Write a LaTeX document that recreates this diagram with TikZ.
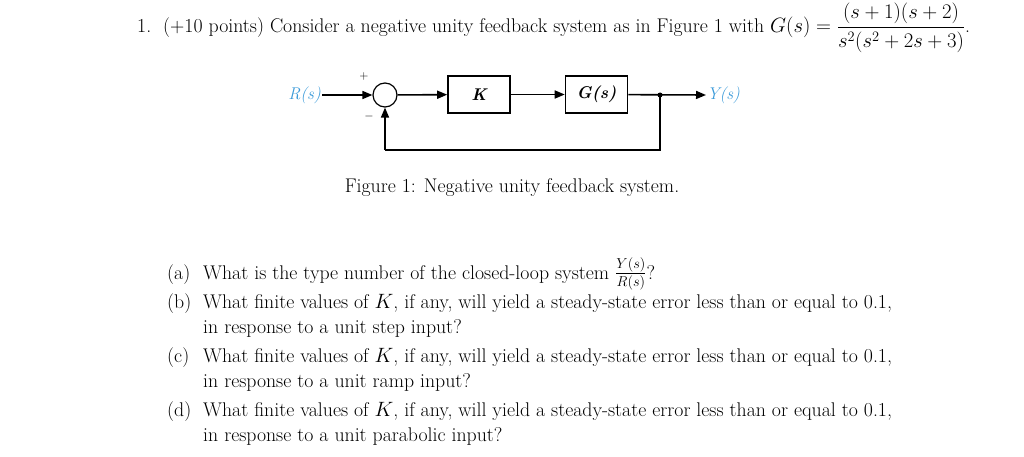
\documentclass[tikz,border=0pt]{standalone}
\usepackage{amsmath}
\usetikzlibrary{arrows.meta}
\definecolor{lblue}{HTML}{3A9AD9}
\begin{document}
\begin{tikzpicture}[x=1pt,y=-1pt,
  txt/.style={anchor=base west,inner sep=0pt,font=\fontsize{19.8}{23}\selectfont},
  blk/.style={draw,line width=1.6pt,minimum width=62pt,minimum height=37pt,inner sep=0pt,font=\fontsize{17}{20}\selectfont\itshape\bfseries},
  sig/.style={text=lblue,font=\fontsize{17}{20}\selectfont\itshape,inner sep=1pt},
  ar/.style={line width=1.6pt,-{Triangle[length=10pt,width=8pt]}},
  ln/.style={line width=1.6pt}]
\useasboundingbox (0,0) rectangle (1024,457);
\node[txt] (t1) at (137,33) {1.\ \ (+10 points) Consider a negative unity feedback system as in Figure 1 with $G(s)=\dfrac{(s+1)(s+2)}{s^2(s^2+2s+3)}$.};
\node[sig,anchor=east] (R) at (322,95) {R(s)};
\node[draw,line width=1.2pt,circle,minimum size=24pt,inner sep=0pt] (S) at (385,95) {};
\node[blk] (K) at (479,94.5) {K};
\node[blk] (G) at (596.5,94.5) {G(s)};
\coordinate (J) at (660,95);
\node[sig,anchor=west] (Y) at (706,95) {Y(s)};
\coordinate (B) at (660,150);
\coordinate (C) at (385,150);
\node[font=\large] (p) at (364,77) {$+$};
\node[font=\large] (m) at (369,117) {$-$};
\draw[ar] (R) -- (S);
\draw[ar] (S) -- (K);
\draw[ar] (K) -- (G);
\draw[ar] (G) -- (Y.west);
\fill (J) circle (2.5pt);
\draw[ln] (J) -- (B) -- (C);
\draw[ar] (C) -- (S);
\node[txt,anchor=base] (cap) at (512,193) {Figure 1: Negative unity feedback system.};
\node[txt] (a) at (167,279) {\makebox[36pt][l]{(a)}What is the type number of the closed-loop system $\frac{Y(s)}{R(s)}$?};
\node[txt] (b) at (167,308) {\makebox[36pt][l]{(b)}What finite values of $K$, if any, will yield a steady-state error less than or equal to 0.1,};
\node[txt] (b2) at (203,333) {in response to a unit step input?};
\node[txt] (c) at (167,362) {\makebox[36pt][l]{(c)}What finite values of $K$, if any, will yield a steady-state error less than or equal to 0.1,};
\node[txt] (c2) at (203,387) {in response to a unit ramp input?};
\node[txt] (d) at (167,416) {\makebox[36pt][l]{(d)}What finite values of $K$, if any, will yield a steady-state error less than or equal to 0.1,};
\node[txt] (d2) at (203,441) {in response to a unit parabolic input?};
\end{tikzpicture}
\end{document}
